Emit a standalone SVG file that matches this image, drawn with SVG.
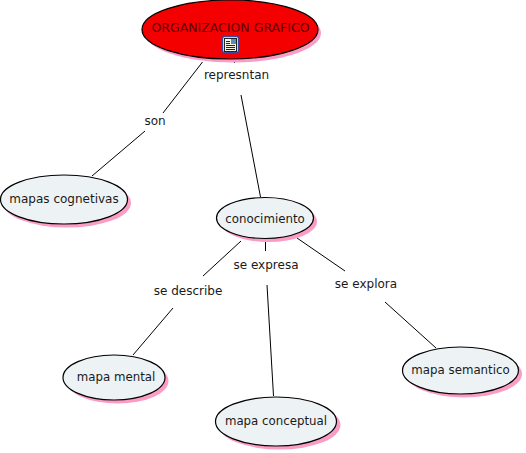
<svg xmlns="http://www.w3.org/2000/svg" width="526" height="453" viewBox="0 0 526 453">
<style>
text{font-family:"DejaVu Sans",Verdana,sans-serif;font-size:12px;fill:#1a1a1a;text-anchor:middle}
.m{font-size:11.800px}
.s{fill:#fb9cc4;stroke:none}
.n{fill:#edf2f5;stroke:#000;stroke-width:1.200}
#connectors line{stroke:#000;stroke-width:1}
</style>
<rect width="526" height="453" fill="#fff"/>
<g id="connectors">
<line x1="202.500" y1="62" x2="163" y2="113"/>
<line x1="145" y1="131" x2="92" y2="176"/>
<line x1="234.500" y1="60" x2="234.500" y2="63"/>
<line x1="241" y1="95" x2="260.500" y2="197"/>
<line x1="241" y1="241" x2="203" y2="276"/>
<line x1="173" y1="308" x2="133" y2="355"/>
<line x1="265.500" y1="242" x2="265.500" y2="251"/>
<line x1="267" y1="285" x2="273.500" y2="396"/>
<line x1="297" y1="238" x2="345" y2="271"/>
<line x1="385" y1="302" x2="436" y2="348"/>
</g>
<g id="root"><ellipse class="s" cx="233" cy="33" rx="88" ry="29.500"/><ellipse cx="230" cy="29.500" rx="88" ry="29.500" fill="#f40000" stroke="#000" stroke-width="1.200"/>
<text x="230.500" y="32" style="fill:#5a0000;font-size:12.500px">ORGANIZACION GRAFICO</text>
<g id="note-icon"><rect x="222.500" y="36.500" width="16" height="16" rx="2" fill="#fff" stroke="#3a4aa0" stroke-width="1.500"/><rect x="224.500" y="38.500" width="12" height="13" fill="#f4f4e4" stroke="#222" stroke-width="1"/><rect x="231" y="39" width="5" height="5" fill="#5a8ac0"/><path d="M226 41.500h4M226 43.500h4M226 45.500h9M226 47.500h9M226 49.500h9" stroke="#222" stroke-width="1" fill="none"/></g></g>
<g id="label-represntan"><text x="236.500" y="79">represntan</text></g>
<g id="label-son"><text x="155" y="125">son</text></g>
<g id="mapas-cognetivas"><ellipse class="s" cx="67" cy="203" rx="64" ry="24.500"/><ellipse class="n" cx="64" cy="199.500" rx="63.500" ry="24.500"/><text x="64" y="203">mapas cognetivas</text></g>
<g id="conocimiento"><ellipse class="s" cx="268.500" cy="221.500" rx="48.500" ry="20.500"/><ellipse class="n" cx="265" cy="218" rx="48.500" ry="20.500"/><text class="m" x="265" y="223">conocimiento</text></g>
<g id="label-se-describe"><text x="188" y="295">se describe</text></g>
<g id="label-se-expresa"><text x="266" y="269">se expresa</text></g>
<g id="label-se-explora"><text x="366" y="288">se explora</text></g>
<g id="mapa-mental"><ellipse class="s" cx="117.500" cy="381" rx="51" ry="22.500"/><ellipse class="n" cx="114" cy="377.500" rx="51" ry="22.500"/><text class="m" x="116" y="381">mapa mental</text></g>
<g id="mapa-conceptual"><ellipse class="s" cx="279.500" cy="425" rx="61" ry="24.500"/><ellipse class="n" cx="276" cy="421.500" rx="60.500" ry="24.500"/><text class="m" x="276" y="425">mapa conceptual</text></g>
<g id="mapa-semantico"><ellipse class="s" cx="464" cy="374" rx="58" ry="23.500"/><ellipse class="n" cx="460.500" cy="370.500" rx="58" ry="23.500"/><text class="m" x="460.500" y="374">mapa semantico</text></g>
</svg>
